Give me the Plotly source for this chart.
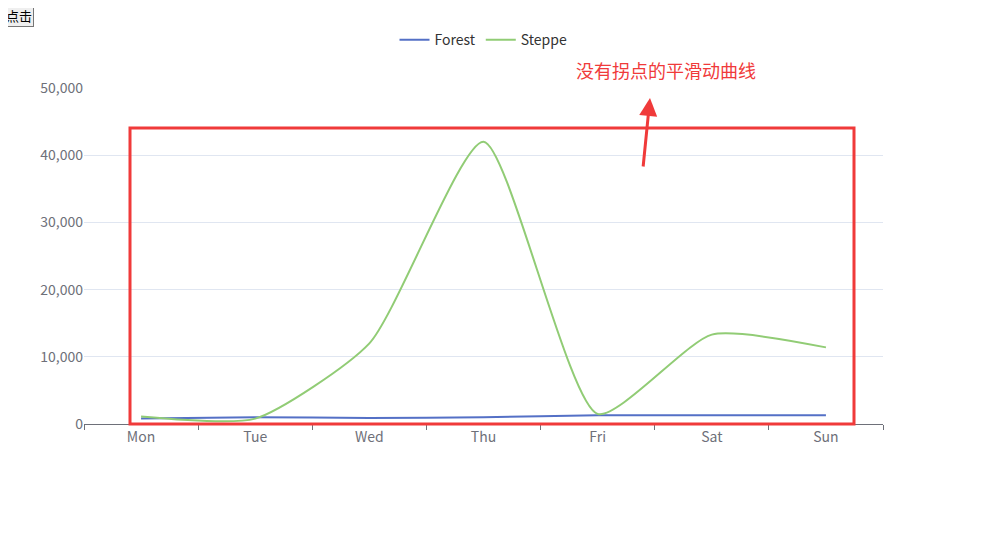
import plotly.graph_objects as go

days = ["Mon", "Tue", "Wed", "Thu", "Fri", "Sat", "Sun"]
forest = [800, 1000, 900, 1000, 1300, 1300, 1300]
steppe = [1100, 800, 12000, 42000, 1500, 13300, 11400]

W, H = 999, 537
OFF = 8
L, R, T, B = 84 - OFF, 883 - OFF, 88 - OFF, 424 - OFF
pw, ph = R - L, B - T

fig = go.Figure()
fig.add_trace(go.Scatter(x=days, y=forest, name="Forest", mode="lines",
                         line=dict(color="#5470c6", width=2, shape="spline", smoothing=0.6)))
fig.add_trace(go.Scatter(x=days, y=steppe, name="Steppe", mode="lines",
                         line=dict(color="#91cc75", width=2, shape="spline", smoothing=0.6)))

fig.update_layout(
    width=W, height=H, plot_bgcolor="white", paper_bgcolor="white",
    margin=dict(l=L, r=W - R, t=T, b=H - B),
    font=dict(family="Microsoft YaHei, Noto Sans CJK SC, sans-serif", size=14, color="#6e7079"),
    legend=dict(orientation="h", x=0.5, xanchor="center", y=0.97, yanchor="top",
                yref="container", font=dict(color="#333", size=14)),
    xaxis=dict(range=[-0.5, 6.5], tickson="boundaries", showline=True, linecolor="#6e7079",
               ticks="outside", ticklen=5, tickcolor="#6e7079", showgrid=False,
               tickfont=dict(color="#6e7079", size=14)),
    yaxis=dict(range=[0, 50000], dtick=10000, tickformat=",", gridcolor="#e0e6f1",
               zeroline=False, tickfont=dict(color="#6e7079", size=14)),
)

px = lambda x: (x - OFF - L) / pw
py = lambda y: (B - (y - OFF)) / ph

fig.add_shape(type="rect", xref="paper", yref="paper",
              x0=px(130), x1=px(854), y0=py(424), y1=py(128),
              line=dict(color="#f03a3a", width=3))
fig.add_annotation(xref="paper", yref="paper", x=px(650), y=py(98),
                   ax=-7, ay=70, showarrow=True, arrowhead=2, arrowsize=1.2,
                   arrowwidth=3, arrowcolor="#f03a3a", text="")
fig.add_annotation(xref="paper", yref="paper", x=px(666), y=py(70),
                   xanchor="center", yanchor="middle",
                   text="没有拐点的平滑动曲线", showarrow=False,
                   font=dict(color="#f03a3a", size=18))
fig.add_annotation(xref="paper", yref="paper", x=px(4), y=py(4),
                   xanchor="left", yanchor="top", text="点击", showarrow=False,
                   bgcolor="#efefef", bordercolor="#767676", borderwidth=1,
                   font=dict(color="black", size=13))

fig.write_html("out.html")
